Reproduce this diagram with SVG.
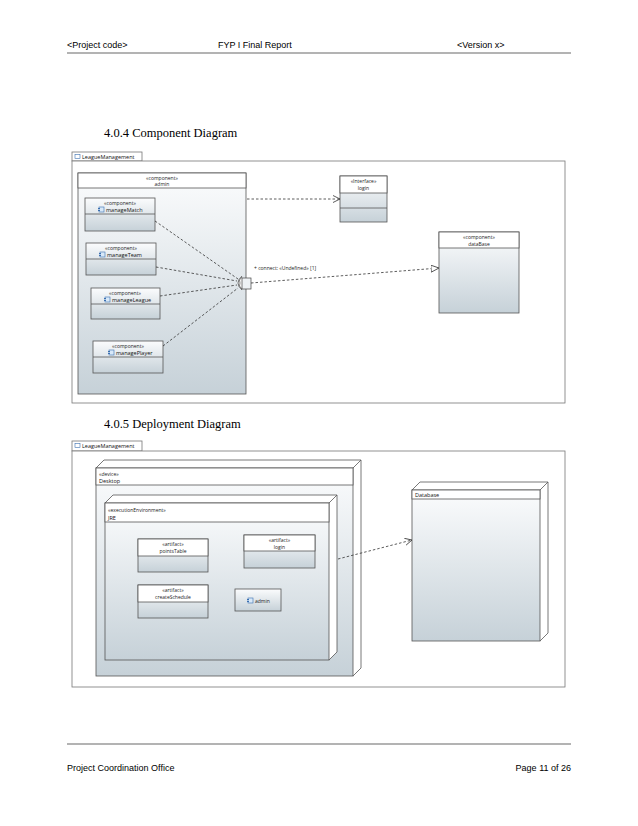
<svg xmlns="http://www.w3.org/2000/svg" width="638" height="826" viewBox="0 0 638 826">
<style>
.t{font-family:"Liberation Sans",Arial,sans-serif;fill:#000}
.h{font-family:"Liberation Serif","Times New Roman",serif;font-size:12.5px}
.s{font-family:"Open Sans","DejaVu Sans",sans-serif;font-size:5px;fill:#222}
.n{font-family:"Open Sans","DejaVu Sans",sans-serif;font-size:5.5px;fill:#111}
.b{fill:url(#g);stroke:#555;stroke-width:0.8}
.l{stroke:#555;stroke-width:0.8;fill:none}
.f{fill:#fff;stroke:#777;stroke-width:0.8}
.d{stroke:#333;stroke-width:0.8;fill:none;stroke-dasharray:2.5,2}
</style>
<defs>
<linearGradient id="g" x1="0" y1="0" x2="0" y2="1"><stop offset="0" stop-color="#fbfcfd"/><stop offset="1" stop-color="#c6d1d8"/></linearGradient>
<marker id="oa" markerWidth="8" markerHeight="8" refX="7" refY="4" orient="auto" markerUnits="userSpaceOnUse"><path d="M0,0.5 L7,4 L0,7.5" fill="none" stroke="#333" stroke-width="0.8"/></marker>
<marker id="tr" markerWidth="9" markerHeight="8" refX="8" refY="4" orient="auto" markerUnits="userSpaceOnUse"><path d="M0,0.5 L8,4 L0,7.5 Z" fill="#fff" stroke="#333" stroke-width="0.8"/></marker>
<g id="ic"><rect x="0" y="0" width="5" height="5" fill="#d8e8f8" stroke="#3a6fb0" stroke-width="0.6"/><rect x="-1" y="1" width="2" height="1" fill="#3a6fb0"/><rect x="-1" y="3" width="2" height="1" fill="#3a6fb0"/></g>
</defs>
<rect width="638" height="826" fill="#fff"/>
<g id="header">
<text class="t" x="67" y="48" font-size="9">&lt;Project code&gt;</text>
<text class="t" x="218" y="48" font-size="9">FYP I Final Report</text>
<text class="t" x="457" y="48" font-size="9">&lt;Version x&gt;</text>
<line x1="67" y1="53" x2="571" y2="53" stroke="#000" stroke-width="0.6"/>
</g>
<text class="t h" x="104" y="137">4.0.4 Component Diagram</text>
<text class="t h" x="104" y="428">4.0.5 Deployment Diagram</text>
<g id="footer">
<line x1="67" y1="744" x2="571" y2="744" stroke="#000" stroke-width="0.6"/>
<text class="t" x="67" y="771" font-size="9">Project Coordination Office</text>
<text class="t" x="571" y="771" font-size="9" text-anchor="end">Page 11 of 26</text>
</g>

<g id="pkg1">
<rect class="f" x="72" y="152" width="70" height="9"/>
<rect x="75" y="154.5" width="5" height="4" fill="none" stroke="#3a6fb0" stroke-width="0.6"/>
<text class="n" x="82" y="159">LeagueManagement</text>
<rect class="f" x="72" y="161" width="493" height="242"/>
</g>
<g id="admin">
<rect class="b" x="78" y="173" width="168" height="221"/>
<rect x="78" y="173" width="168" height="15" fill="#fff" stroke="#555" stroke-width="0.8"/>
<text class="s" x="162" y="179.5" text-anchor="middle">«component»</text>
<text class="s" x="162" y="185.5" text-anchor="middle">admin</text>
</g>
<g id="manageMatch">
<rect class="b" x="85" y="198" width="70" height="33"/><line class="l" x1="85" y1="214" x2="155" y2="214"/>
<text class="s" x="120" y="205" text-anchor="middle">«component»</text>
<use href="#ic" x="99" y="207"/><text class="n" x="106" y="212">manageMatch</text>
</g>
<g id="manageTeam">
<rect class="b" x="86" y="243" width="70" height="32"/><line class="l" x1="86" y1="259" x2="156" y2="259"/>
<text class="s" x="121" y="250" text-anchor="middle">«component»</text>
<use href="#ic" x="100" y="252"/><text class="n" x="107" y="257">manageTeam</text>
</g>
<g id="manageLeague">
<rect class="b" x="91" y="288" width="69" height="31"/><line class="l" x1="91" y1="304" x2="160" y2="304"/>
<text class="s" x="125" y="295" text-anchor="middle">«component»</text>
<use href="#ic" x="105" y="297"/><text class="n" x="112" y="302">manageLeague</text>
</g>
<g id="managePlayer">
<rect class="b" x="93" y="341" width="70" height="32"/><line class="l" x1="93" y1="357" x2="163" y2="357"/>
<text class="s" x="128" y="348" text-anchor="middle">«component»</text>
<use href="#ic" x="109" y="350"/><text class="n" x="116" y="355">managePlayer</text>
</g>
<g id="port">
<path d="M242,276 Q234,283 242,290" fill="#fff" stroke="#333" stroke-width="0.7"/>
<path d="M242,277 Q238,280 240,283 Q238,286 242,289" fill="none" stroke="#333" stroke-width="0.6"/>
<rect x="242" y="278" width="9" height="11" fill="#eef2f5" stroke="#444" stroke-width="0.7"/>
</g>
<g id="login">
<rect class="b" x="340" y="176" width="47" height="46"/>
<rect x="340" y="176" width="47" height="17" fill="#fff" stroke="#555" stroke-width="0.8"/>
<line class="l" x1="340" y1="208" x2="387" y2="208"/>
<text class="s" x="363.5" y="183" text-anchor="middle">«Interface»</text>
<text class="s" x="363.5" y="189.5" text-anchor="middle">login</text>
</g>
<g id="dataBase">
<rect class="b" x="439" y="232" width="80" height="81"/>
<rect x="439" y="232" width="80" height="16" fill="#fff" stroke="#555" stroke-width="0.8"/>
<text class="s" x="479" y="239" text-anchor="middle">«component»</text>
<text class="s" x="479" y="245.5" text-anchor="middle">dataBase</text>
</g>
<g id="connectors1">
<line class="d" x1="155" y1="221" x2="238" y2="279"/>
<line class="d" x1="156" y1="267" x2="237" y2="281"/>
<line class="d" x1="160" y1="296" x2="237" y2="285"/>
<line class="d" x1="163" y1="346" x2="238" y2="288"/>
<line class="d" x1="247" y1="199" x2="340" y2="199" marker-end="url(#oa)"/>
<line class="d" x1="251" y1="283" x2="439" y2="268" marker-end="url(#tr)"/>
<text class="s" x="254" y="270">+ connect: «Undefined» [1]</text>
</g>

<g id="pkg2">
<rect class="f" x="72" y="441" width="70" height="10"/>
<rect x="75" y="443.5" width="5" height="4" fill="none" stroke="#3a6fb0" stroke-width="0.6"/>
<text class="n" x="82" y="448">LeagueManagement</text>
<rect class="f" x="72" y="451" width="493" height="236"/>
</g>
<g id="Desktop">
<path d="M96,468 L104,460 L361,460 L361,668 L353,676" fill="#fff" stroke="#555" stroke-width="0.8"/>
<line class="l" x1="353" y1="468" x2="361" y2="460"/>
<rect class="b" x="96" y="468" width="257" height="208"/>
<rect x="96" y="468" width="257" height="17" fill="#fff" stroke="#555" stroke-width="0.8"/>
<text class="s" x="99" y="476">«device»</text>
<text class="n" x="99" y="483">Desktop</text>
</g>
<g id="JRE">
<path d="M105,503 L113,495 L337,495 L337,652 L329,660" fill="#fff" stroke="#555" stroke-width="0.8"/>
<line class="l" x1="329" y1="503" x2="337" y2="495"/>
<rect class="b" x="105" y="503" width="224" height="157"/>
<rect x="105" y="503" width="224" height="19" fill="#fff" stroke="#555" stroke-width="0.8"/>
<text class="s" x="108" y="512">«executionEnvironment»</text>
<text class="n" x="108" y="520">JRE</text>
</g>
<g id="pointsTable">
<rect class="b" x="138" y="539" width="70" height="33"/>
<rect x="138" y="539" width="70" height="17" fill="#fff" stroke="#555" stroke-width="0.8"/>
<text class="s" x="173" y="546" text-anchor="middle">«artifact»</text>
<text class="s" x="173" y="553" text-anchor="middle">pointsTable</text>
</g>
<g id="loginArtifact">
<rect class="b" x="244" y="535" width="71" height="33"/>
<rect x="244" y="535" width="71" height="16" fill="#fff" stroke="#555" stroke-width="0.8"/>
<text class="s" x="279.5" y="542" text-anchor="middle">«artifact»</text>
<text class="s" x="279.5" y="549" text-anchor="middle">login</text>
</g>
<g id="createSchedule">
<rect class="b" x="138" y="585" width="70" height="33"/>
<rect x="138" y="585" width="70" height="17" fill="#fff" stroke="#555" stroke-width="0.8"/>
<text class="s" x="173" y="592" text-anchor="middle">«artifact»</text>
<text class="s" x="173" y="599" text-anchor="middle">createSchedule</text>
</g>
<g id="adminDep">
<rect class="b" x="235" y="589" width="46" height="22"/>
<use href="#ic" x="248" y="598"/><text class="s" x="255" y="602.5">admin</text>
</g>
<g id="Database">
<path d="M412,490 L420,482 L548,482 L548,633 L540,641" fill="#fff" stroke="#555" stroke-width="0.8"/>
<line class="l" x1="540" y1="490" x2="548" y2="482"/>
<rect class="b" x="412" y="490" width="128" height="151"/>
<rect x="412" y="490" width="128" height="9" fill="#fff" stroke="#555" stroke-width="0.8"/>
<text class="n" x="415" y="497">Database</text>
</g>
<g id="connectors2">
<line class="d" x1="338" y1="559" x2="412" y2="540" marker-end="url(#oa)"/>
</g>
</svg>
